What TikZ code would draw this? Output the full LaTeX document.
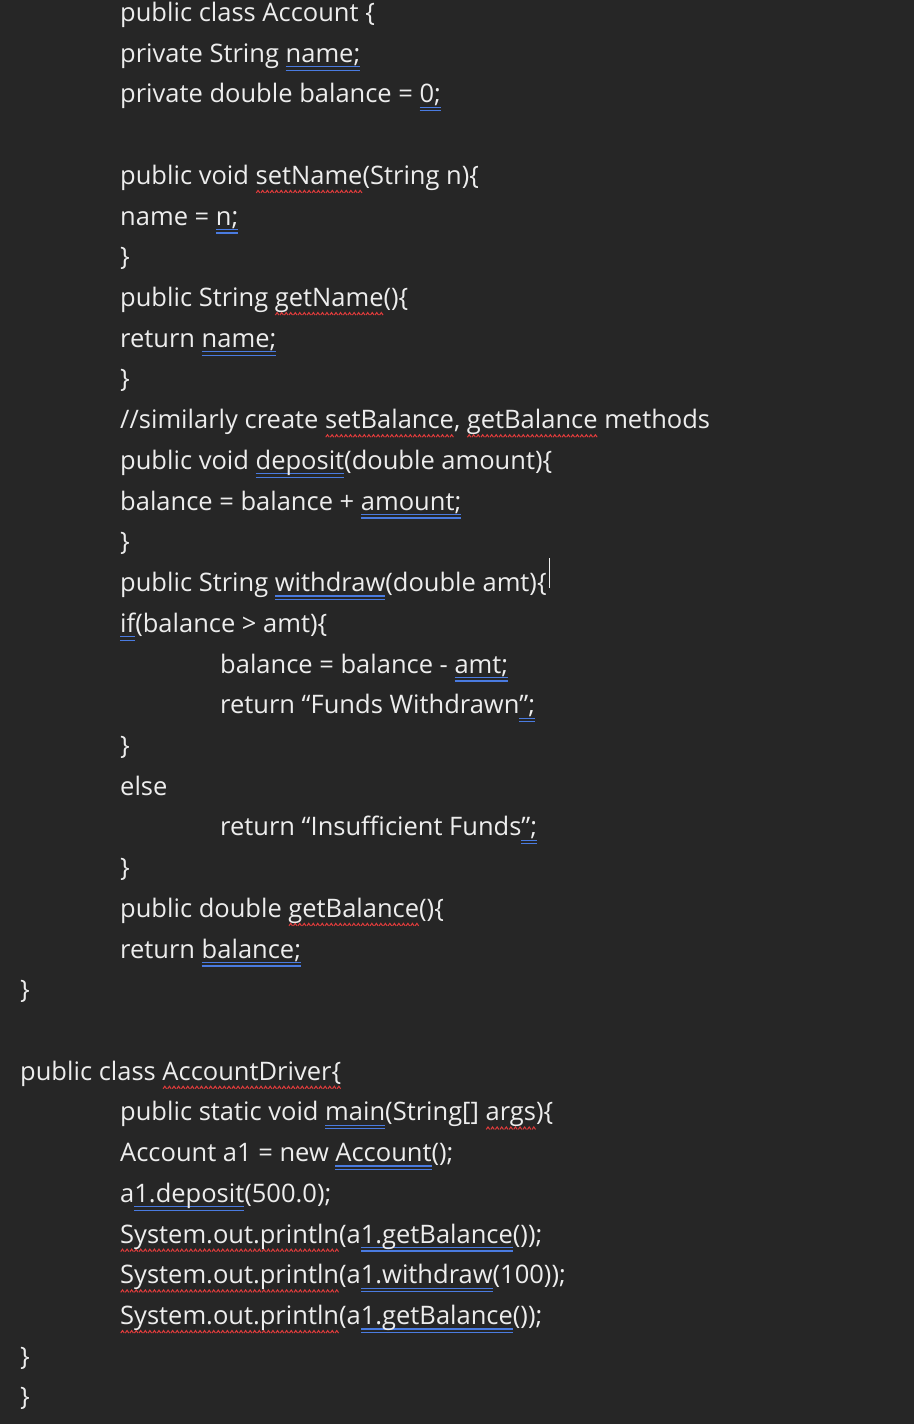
\documentclass[tikz,border=0pt]{standalone}
\usepackage{fontspec}
\setmainfont{Open Sans}
\definecolor{bg}{HTML}{262626}
\definecolor{fg}{HTML}{EDEDED}
\definecolor{ub}{HTML}{4A7BE0}
\definecolor{ur}{HTML}{E03C3C}
\newsavebox\ubox
\newcommand\bl[1]{\sbox\ubox{#1}\rlap{\textcolor{ub}{\rule[-5pt]{\wd\ubox}{1.2pt}}}\rlap{\textcolor{ub}{\rule[-8.5pt]{\wd\ubox}{1.2pt}}}\usebox\ubox}
\newsavebox\wbox
\sbox\wbox{\tikz[x=1pt,y=1pt]\draw[ur,line width=1pt](0,0)--(1.75,2.5)--(3.5,0);}
\newcommand\rw[1]{\sbox\ubox{#1}\rlap{\raisebox{-9pt}{\hbox to\wd\ubox{\xleaders\copy\wbox\hfill}}}\usebox\ubox}
\tikzset{ln/.style={anchor=base west,inner sep=0pt,text=fg,font=\fontsize{25.5}{30}\selectfont}}
\begin{document}
\begin{tikzpicture}[x=1pt,y=-1pt]
\fill[bg] (0,0) rectangle (914,1424);
\useasboundingbox (0,0) rectangle (914,1424);
\def\L#1#2#3{\node[ln] (n#1) at (#2,{13+8.5+40.72*(#1)}) {#3};}
\L{0}{120}{public class Account \{}
\L{1}{120}{private String \bl{name;}}
\L{2}{120}{private double balance = \bl{0;}}
\L{4}{120}{public void \rw{setName}(String n)\{}
\L{5}{120}{name = \bl{n;}}
\L{6}{120}{\}}
\L{7}{120}{public String \rw{getName}()\{}
\L{8}{120}{return \bl{name;}}
\L{9}{120}{\}}
\L{10}{120}{//similarly create \rw{setBalance}, \rw{getBalance} methods}
\L{11}{120}{public void \bl{deposit}(double amount)\{}
\L{12}{120}{balance = balance + \bl{amount;}}
\L{13}{120}{\}}
\L{14}{120}{public String \bl{withdraw}(double amt)\{}
\L{15}{120}{\bl{if}(balance > amt)\{}
\L{16}{220}{balance = balance - \bl{amt;}}
\L{17}{220}{return “Funds Withdrawn\bl{”;}}
\L{18}{120}{\}}
\L{19}{120}{else}
\L{20}{220}{return “Insufficient Funds\bl{”;}}
\L{21}{120}{\}}
\L{22}{120}{public double \rw{getBalance}()\{}
\L{23}{120}{return \bl{balance;}}
\L{24}{20}{\}}
\L{26}{20}{public class \rw{AccountDriver\{}}
\L{27}{120}{public static void \bl{main}(String[] \rw{args})\{}
\L{28}{120}{Account a1 = new \bl{Account}();}
\L{29}{120}{a\bl{1.deposit}(500.0);}
\L{30}{120}{\rw{System.out.println}(a\bl{1.getBalance}());}
\L{31}{120}{\rw{System.out.println}(a\bl{1.withdraw}(100));}
\L{32}{120}{\rw{System.out.println}(a\bl{1.getBalance}());}
\L{33}{20}{\}}
\L{34}{20}{\}}
\draw[fg,line width=1pt] ([xshift=3pt,yshift=4pt]n14.base east) -- ++(0,-30);
\end{tikzpicture}
\end{document}
